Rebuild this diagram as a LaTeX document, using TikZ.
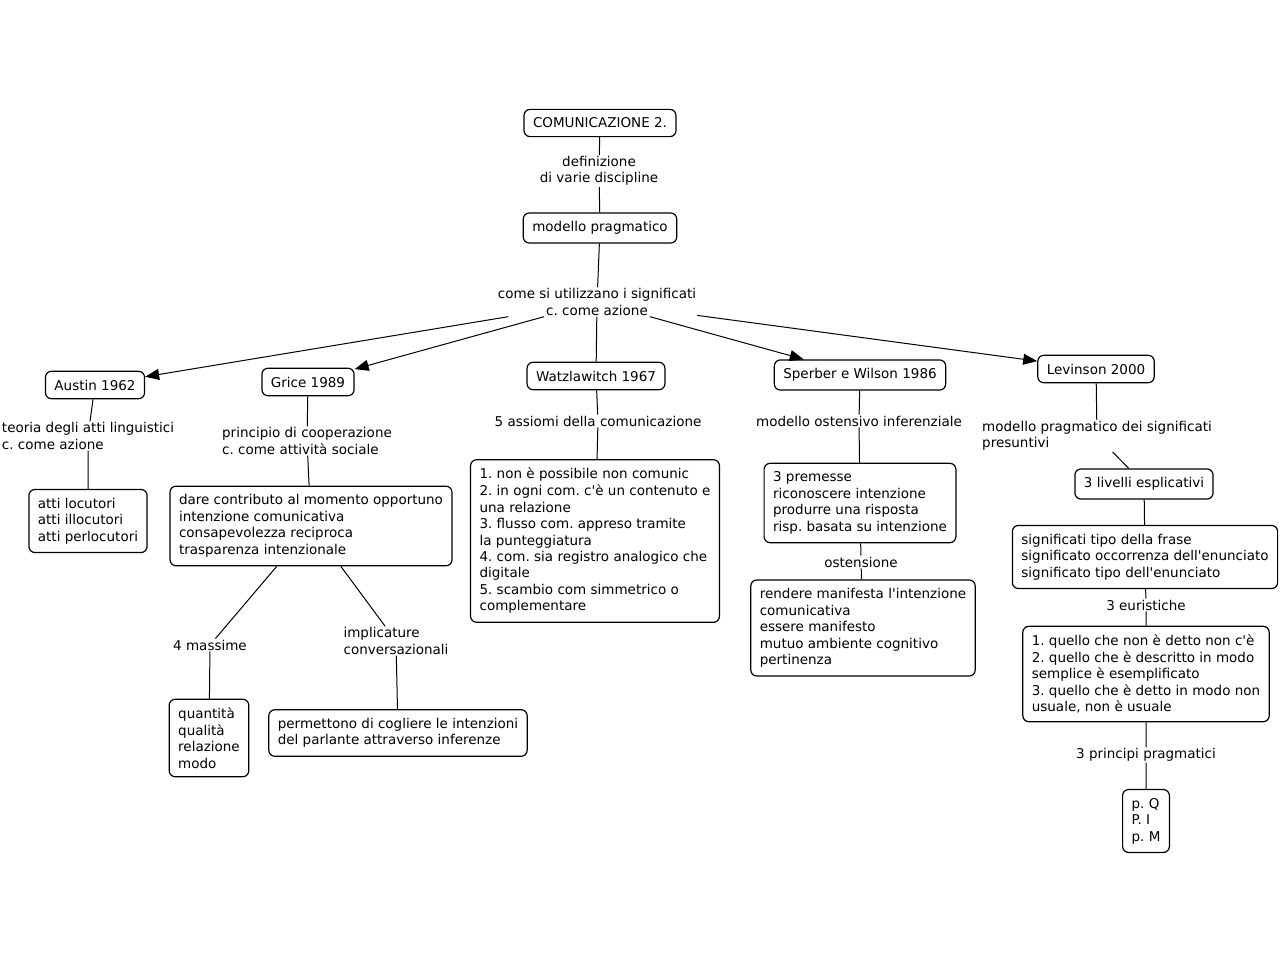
\documentclass[tikz,border=0pt]{standalone}
\usepackage{fontspec}
\setmainfont{DejaVu Sans}
\usepackage{tikz}
\usetikzlibrary{arrows.meta}

\tikzset{
  concept/.style={draw, rounded corners=6pt, line width=1.2pt, align=left, inner xsep=9pt, inner ysep=8.5pt},
  phrase/.style={align=center, inner sep=1pt},
  phraseleft/.style={align=left, inner sep=1pt},
  link/.style={line width=1pt},
  linkarrow/.style={link, -{Triangle[length=14pt,width=11pt]}}
}
\newcommand{\ap}{\textquotesingle}
\frenchspacing

\begin{document}
\begin{tikzpicture}[x=1pt, y=-1pt, font=\fontsize{13.5}{16.5}\selectfont]
	\useasboundingbox (0,0) rectangle (1280,963);
	\node[concept] (com) at (600,123) {COMUNICAZIONE 2.};
	\node[phrase] (def) at (599,171) {definizione\\di varie discipline};
	\node[concept] (mod) at (600,228) {modello pragmatico};
	\node[phrase] (uso) at (597,302) {come si utilizzano i significati\\c. come azione};
	\node[concept] (austin) at (95,385) {Austin 1962};
	\node[concept] (grice) at (308,382) {Grice 1989};
	\node[concept] (watz) at (596,376) {Watzlawitch 1967};
	\node[concept] (sperber) at (860,375) {Sperber e Wilson 1986};
	\node[concept] (levinson) at (1096,369) {Levinson 2000};
	\node[phraseleft] (teoria) at (88,436) {teoria degli atti linguistici\\c. come azione};
	\node[concept] (atti) at (88,521) {atti locutori\\atti illocutori\\atti perlocutori};
	\node[phraseleft] (coop) at (307,441) {principio di cooperazione\\c. come attività sociale};
	\node[concept] (dare) at (311,526) {dare contributo al momento opportuno\\intenzione comunicativa\\consapevolezza reciproca\\trasparenza intenzionale};
	\node[phrase] (massime) at (210,645) {4 massime};
	\node[phraseleft] (impl) at (396,641) {implicature\\conversazionali};
	\node[concept] (qual) at (209,738) {quantità\\qualità\\relazione\\modo};
	\node[concept] (perm) at (398,733) {permettono di cogliere le intenzioni\\del parlante attraverso inferenze};
	\node[phrase] (assiomi) at (598,421) {5 assiomi della comunicazione};
	\node[concept] (lista) at (595,541) {1. non è possibile non comunic\\2. in ogni com. c\ap è un contenuto e\\una relazione\\3. flusso com. appreso tramite\\la punteggiatura\\4. com. sia registro analogico che\\digitale\\5. scambio com simmetrico o\\complementare};
	\node[phrase] (ostinf) at (859,421) {modello ostensivo inferenziale};
	\node[concept] (premesse) at (860,503) {3 premesse\\riconoscere intenzione\\produrre una risposta\\risp. basata su intenzione};
	\node[phrase] (ost) at (861,562) {ostensione};
	\node[concept] (rendere) at (863,628) {rendere manifesta l\ap intenzione\\comunicativa\\essere manifesto\\mutuo ambiente cognitivo\\pertinenza};
	\node[phraseleft] (presunt) at (1097,436) {modello pragmatico dei significati\\presuntivi};
	\node[concept] (livelli) at (1144,484) {3 livelli esplicativi};
	\node[concept] (frase) at (1145,557) {significati tipo della frase\\significato occorrenza dell\ap enunciato\\significato tipo dell\ap enunciato};
	\node[phrase] (eur) at (1146,605) {3 euristiche};
	\node[concept] (quello) at (1146,674) {1. quello che non è detto non c\ap è\\2. quello che è descritto in modo\\semplice è esemplificato\\3. quello che è detto in modo non\\usuale, non è usuale};
	\node[phrase] (princ) at (1146,755) {3 principi pragmatici};
	\node[concept] (pqm) at (1146,821) {p. Q\\P. I\\p. M};
	\draw[link] (com) -- (def) -- (mod) -- (uso) -- (watz);
	\draw[linkarrow] (uso) -- (austin);
	\draw[linkarrow] (uso) -- (grice);
	\draw[linkarrow] (uso) -- (sperber);
	\draw[linkarrow] (uso) -- (levinson);
	\draw[link] (austin) -- (teoria) -- (atti);
	\draw[link] (grice) -- (coop) -- (dare);
	\draw[link] (dare) -- (massime) -- (qual);
	\draw[link] (dare) -- (impl) -- (perm);
	\draw[link] (watz) -- (assiomi) -- (lista);
	\draw[link] (sperber) -- (ostinf) -- (premesse) -- (ost) -- (rendere);
	\draw[link] (levinson) -- (presunt) -- (livelli) -- (frase) -- (eur) -- (quello) -- (princ) -- (pqm);
\end{tikzpicture}
\end{document}
